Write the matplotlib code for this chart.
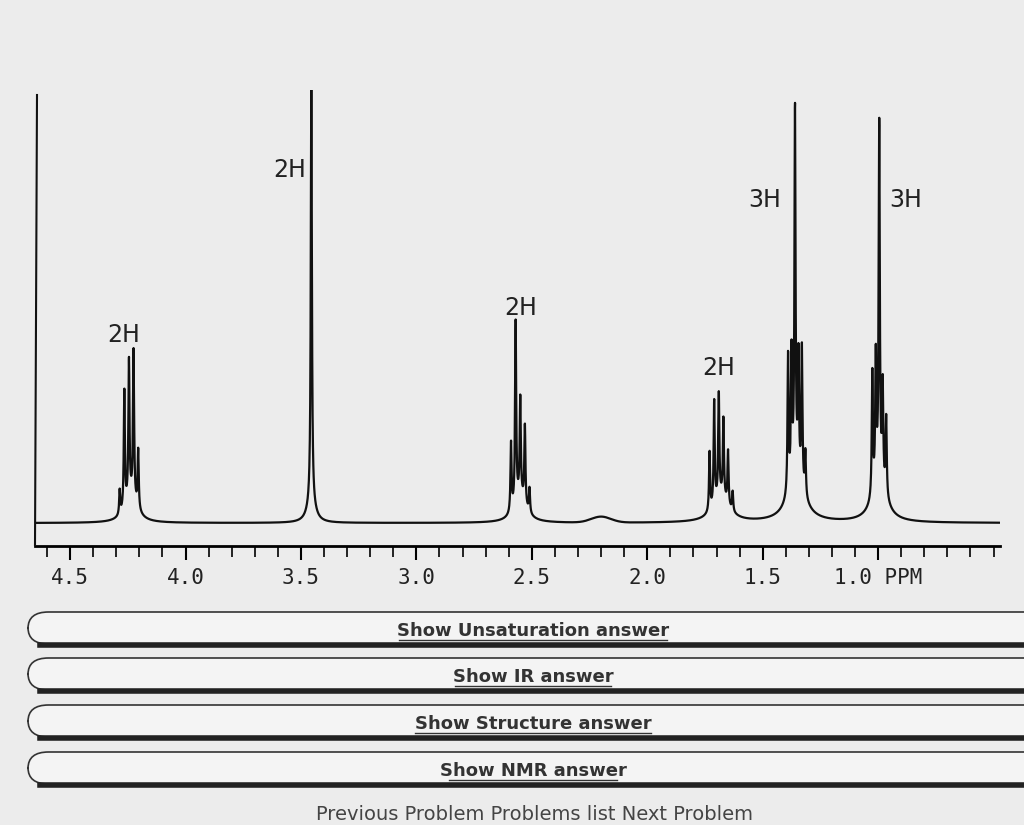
import numpy as np
import matplotlib
matplotlib.use("Agg")
import matplotlib.pyplot as plt
from matplotlib.patches import FancyBboxPatch

# line positions (ppm) and intensities for each multiplet
line_ppm = [4.265, 4.245, 4.225, 4.205, 4.285,
            3.455,
            2.59, 2.57, 2.55, 2.53, 2.51,
            1.73, 1.71, 1.69, 1.67, 1.65, 1.63,
            1.39, 1.375, 1.36, 1.345, 1.33, 1.315,
            1.025, 1.01, 0.995, 0.98, 0.965]
line_int = [120, 140, 150, 60, 25,
            430,
            70, 185, 100, 80, 25,
            60, 105, 105, 80, 55, 20,
            140, 130, 370, 120, 140, 45,
            125, 130, 360, 100, 80]
int_labels = ["2H", "2H", "2H", "2H", "3H", "3H"]
label_ppm = [4.27, 3.55, 2.55, 1.69, 1.49, 0.88]
label_h = [178, 345, 205, 145, 315, 315]
tick_labels = ["4.5", "4.0", "3.5", "3.0", "2.5", "2.0", "1.5", "1.0 PPM"]
tick_pos = [4.5, 4.0, 3.5, 3.0, 2.5, 2.0, 1.5, 1.0]
buttons = ["Show Unsaturation answer", "Show IR answer",
           "Show Structure answer", "Show NMR answer"]

fig = plt.figure(figsize=(10.24, 8.25), dpi=100)
fig.patch.set_facecolor("#ececec")
W, H = 1024, 825
XL = (4.652, 0.472)

ax = fig.add_axes([35/W, 1-528/H, 965/W, 438/H])
ax.set_facecolor("none")
x = np.linspace(XL[1], XL[0], 8000)
y = np.zeros_like(x)
g = 0.0028
for p, a in zip(line_ppm, line_int):
    y += a * g**2 / ((x - p)**2 + g**2)
for p, a, w in [(4.235, 25, 0.03), (3.455, 20, 0.02), (2.55, 25, 0.03),
                (1.68, 25, 0.04), (1.355, 45, 0.04), (0.995, 40, 0.035)]:
    y += a * w**2 / ((x - p)**2 + w**2)
y += 6 * np.exp(-((x - 2.2) / 0.06)**2)
ax.plot(x, y, color="#111", lw=1.6)
ax.set_xlim(*XL)
ax.set_ylim(-5, 438)
ax.axis("off")
for lab, p, h in zip(int_labels, label_ppm, label_h):
    ax.text(p, h, lab, fontsize=17, color="#222", ha="center", va="bottom")

fig.add_artist(plt.Line2D([37/W, 35/W], [1-95/H, 1-545/H], color="#111", lw=1.5))

sax = fig.add_axes([35/W, 1-546/H, 965/W, 0.001])
sax.set_xlim(*XL)
sax.set_yticks([])
for s in ["left", "right", "top"]:
    sax.spines[s].set_visible(False)
sax.spines["bottom"].set_linewidth(2)
sax.set_xticks(tick_pos)
sax.set_xticklabels(tick_labels, fontfamily="DejaVu Sans Mono", fontsize=15, color="#222")
sax.set_xticks(np.arange(0.5, 4.61, 0.1), minor=True)
sax.tick_params(axis="x", which="major", length=10, width=1.5, pad=6, direction="out")
sax.tick_params(axis="x", which="minor", length=8, width=1.2, direction="out")
sax.set_facecolor("none")

tops = [612, 658, 705, 752]
for t, lab in zip(tops, buttons):
    bx = FancyBboxPatch((28/W, 1-(t+32)/H), 1100/W, 32/H,
                        boxstyle="round,pad=0,rounding_size=0.02",
                        transform=fig.transFigure, facecolor="#f4f4f4",
                        edgecolor="#333", lw=1.2)
    fig.add_artist(bx)
    fig.add_artist(plt.Line2D([40/W, 1024/W], [1-(t+33)/H]*2, color="#222", lw=4))
    fig.text(533/W, 1-(t+19)/H, lab, fontsize=13, fontweight="bold", color="#333",
             ha="center", va="center", fontfamily="DejaVu Sans")
    fig.add_artist(plt.Line2D([(533-len(lab)*5.6)/W, (533+len(lab)*5.6)/W],
                              [1-(t+28)/H]*2, color="#333", lw=1))
fig.text(535/W, 1-814/H, "Previous Problem Problems list Next Problem",
         fontsize=14, color="#444", ha="center", va="center")

fig.savefig("out.png", dpi=100, facecolor=fig.get_facecolor())
